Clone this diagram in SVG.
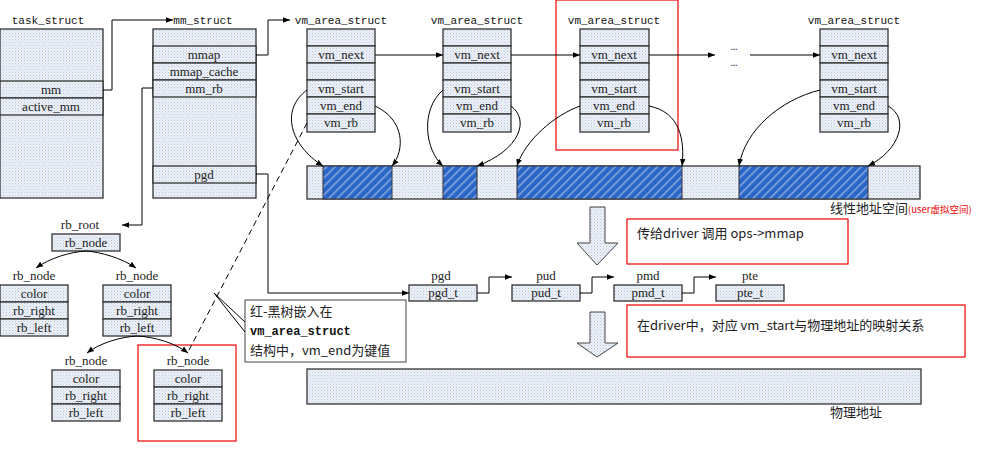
<svg xmlns="http://www.w3.org/2000/svg" width="994" height="457" viewBox="0 0 994 457">
<defs>
<pattern id="dot" width="3" height="3" patternUnits="userSpaceOnUse"><rect width="3" height="3" fill="#eef2f8"/><rect width="1" height="1" fill="#b8c6dc"/><rect x="1.5" y="1.5" width="1" height="1" fill="#c8d4e6"/></pattern>
<pattern id="hatch" width="6" height="6" patternUnits="userSpaceOnUse" patternTransform="rotate(45)"><rect width="6" height="6" fill="#2a66c8"/><rect width="1.5" height="6" fill="#8aa8dc"/></pattern>
<marker id="ar" viewBox="0 0 10 10" refX="10" refY="5" markerWidth="7" markerHeight="7" orient="auto"><path d="M0,1 L10,5 L0,9 z" fill="#000"/></marker>
</defs>
<style>
.b{fill:url(#dot);stroke:#333;stroke-width:1.3}
.t{font-family:"Liberation Serif",serif;font-size:13px;fill:#222;text-anchor:middle}
.h{font-family:"Liberation Mono",monospace;font-size:11px;fill:#111;text-anchor:middle}
.c{fill:none;stroke:#000;stroke-width:1}
.r{fill:none;stroke:#e00;stroke-width:1.2}
.z{font-family:"Noto Sans CJK SC",sans-serif;font-size:13px;fill:#222}
</style>
<rect width="994" height="457" fill="#fff"/>
<g id="task_struct">
<text class="h" x="48" y="24">task_struct</text>
<rect class="b" x="0" y="29" width="103" height="169"/>
<rect class="b" x="0" y="81" width="103" height="17"/><text class="t" x="51" y="94">mm</text>
<rect class="b" x="0" y="98" width="103" height="17"/><text class="t" x="51" y="111">active_mm</text>
</g>
<g id="mm_struct">
<text class="h" x="203" y="24">mm_struct</text>
<rect class="b" x="153" y="29" width="103" height="169"/>
<rect class="b" x="153" y="46" width="103" height="17"/><text class="t" x="204" y="59">mmap</text>
<rect class="b" x="153" y="63" width="103" height="17"/><text class="t" x="204" y="76">mmap_cache</text>
<rect class="b" x="153" y="80" width="103" height="17"/><text class="t" x="204" y="93">mm_rb</text>
<rect class="b" x="153" y="166" width="103" height="17"/><text class="t" x="204" y="179">pgd</text>
</g>
<g id="vma1">
<text class="h" x="341" y="24">vm_area_struct</text>
<rect class="b" x="307" y="29" width="68" height="17"/>
<rect class="b" x="307" y="46" width="68" height="17"/><text class="t" x="341" y="59">vm_next</text>
<rect class="b" x="307" y="63" width="68" height="17"/>
<rect class="b" x="307" y="80" width="68" height="17"/><text class="t" x="341" y="93">vm_start</text>
<rect class="b" x="307" y="97" width="68" height="17"/><text class="t" x="341" y="110">vm_end</text>
<rect class="b" x="307" y="114" width="68" height="18"/><text class="t" x="341" y="127">vm_rb</text>
</g>
<g id="vma2">
<text class="h" x="477" y="24">vm_area_struct</text>
<rect class="b" x="443" y="29" width="68" height="17"/>
<rect class="b" x="443" y="46" width="68" height="17"/><text class="t" x="477" y="59">vm_next</text>
<rect class="b" x="443" y="63" width="68" height="17"/>
<rect class="b" x="443" y="80" width="68" height="17"/><text class="t" x="477" y="93">vm_start</text>
<rect class="b" x="443" y="97" width="68" height="17"/><text class="t" x="477" y="110">vm_end</text>
<rect class="b" x="443" y="114" width="68" height="18"/><text class="t" x="477" y="127">vm_rb</text>
</g>
<g id="vma3">
<rect class="r" x="556" y="0" width="122" height="150"/>
<text class="h" x="614" y="24">vm_area_struct</text>
<rect class="b" x="580" y="29" width="69" height="17"/>
<rect class="b" x="580" y="46" width="69" height="17"/><text class="t" x="614" y="59">vm_next</text>
<rect class="b" x="580" y="63" width="69" height="17"/>
<rect class="b" x="580" y="80" width="69" height="17"/><text class="t" x="614" y="93">vm_start</text>
<rect class="b" x="580" y="97" width="69" height="17"/><text class="t" x="614" y="110">vm_end</text>
<rect class="b" x="580" y="114" width="69" height="18"/><text class="t" x="614" y="127">vm_rb</text>
</g>
<g id="dots"><text class="h" x="734" y="50">…</text><text class="h" x="734" y="66">…</text></g>
<g id="vma4">
<text class="h" x="854" y="24">vm_area_struct</text>
<rect class="b" x="820" y="29" width="68" height="17"/>
<rect class="b" x="820" y="46" width="68" height="17"/><text class="t" x="854" y="59">vm_next</text>
<rect class="b" x="820" y="63" width="68" height="17"/>
<rect class="b" x="820" y="80" width="68" height="17"/><text class="t" x="854" y="93">vm_start</text>
<rect class="b" x="820" y="97" width="68" height="17"/><text class="t" x="854" y="110">vm_end</text>
<rect class="b" x="820" y="114" width="68" height="18"/><text class="t" x="854" y="127">vm_rb</text>
</g>
<g id="linear">
<rect class="b" x="307" y="166" width="613" height="33"/>
<rect x="323" y="166" width="69" height="33" fill="url(#hatch)" stroke="#333"/>
<rect x="443" y="166" width="34" height="33" fill="url(#hatch)" stroke="#333"/>
<rect x="517" y="166" width="165" height="33" fill="url(#hatch)" stroke="#333"/>
<rect x="739" y="166" width="129" height="33" fill="url(#hatch)" stroke="#333"/>
<text class="z" x="830" y="213" font-size="11">线性地址空间<tspan fill="#e00" font-size="9.5">(user虚拟空间)</tspan></text>
</g>
<g id="phys">
<rect class="b" x="307" y="369" width="614" height="35"/>
<text class="z" x="830" y="417" font-size="11">物理地址</text>
</g>
<g id="bigarrows">
<path d="M590,207 H605 V243 H618 L597,265 L577,243 H590 Z" fill="url(#dot)" stroke="#444"/>
<path d="M590,312 H605 V343 H618 L597,357 L577,343 H590 Z" fill="url(#dot)" stroke="#444"/>
</g>
<g id="note1"><rect class="r" x="627" y="219" width="221" height="45"/><text class="z" x="637" y="238" fill="#e00" font-size="14">传给driver 调用 ops-&gt;mmap</text></g>
<g id="note2"><rect class="r" x="627" y="305" width="338" height="52"/><text class="z" x="637" y="330" fill="#e00" font-size="14">在driver中，对应 vm_start与物理地址的映射关系</text></g>
<g id="pgtables">
<text class="t" x="441" y="280">pgd</text><rect class="b" x="409" y="285" width="68" height="16"/><text class="t" x="443" y="297">pgd_t</text>
<text class="t" x="546" y="280">pud</text><rect class="b" x="512" y="285" width="68" height="16"/><text class="t" x="546" y="297">pud_t</text>
<text class="t" x="648" y="280">pmd</text><rect class="b" x="614" y="285" width="68" height="16"/><text class="t" x="648" y="297">pmd_t</text>
<text class="t" x="750" y="280">pte</text><rect class="b" x="716" y="285" width="68" height="16"/><text class="t" x="750" y="297">pte_t</text>
</g>
<g id="rbtree">
<text class="t" x="80" y="229">rb_root</text>
<rect class="b" x="52" y="234" width="68" height="17"/><text class="t" x="86" y="247">rb_node</text>
<text class="t" x="34" y="280">rb_node</text>
<rect class="b" x="0" y="285" width="68" height="17"/><text class="t" x="34" y="298">color</text>
<rect class="b" x="0" y="302" width="68" height="17"/><text class="t" x="34" y="315">rb_right</text>
<rect class="b" x="0" y="319" width="68" height="17"/><text class="t" x="34" y="332">rb_left</text>
<text class="t" x="137" y="280">rb_node</text>
<rect class="b" x="103" y="285" width="68" height="17"/><text class="t" x="137" y="298">color</text>
<rect class="b" x="103" y="302" width="68" height="17"/><text class="t" x="137" y="315">rb_right</text>
<rect class="b" x="103" y="319" width="68" height="17"/><text class="t" x="137" y="332">rb_left</text>
<text class="t" x="86" y="365">rb_node</text>
<rect class="b" x="52" y="370" width="68" height="17"/><text class="t" x="86" y="383">color</text>
<rect class="b" x="52" y="387" width="68" height="17"/><text class="t" x="86" y="400">rb_right</text>
<rect class="b" x="52" y="404" width="68" height="17"/><text class="t" x="86" y="417">rb_left</text>
<rect class="r" x="138" y="345" width="98" height="96"/>
<text class="t" x="188" y="365">rb_node</text>
<rect class="b" x="154" y="370" width="68" height="17"/><text class="t" x="188" y="383">color</text>
<rect class="b" x="154" y="387" width="68" height="17"/><text class="t" x="188" y="400">rb_right</text>
<rect class="b" x="154" y="404" width="68" height="17"/><text class="t" x="188" y="417">rb_left</text>
</g>
<g id="callout">
<rect x="245" y="300" width="161" height="62" fill="#fff" stroke="#444"/>
<text class="z" x="250" y="316">红-黑树嵌入在</text>
<text x="250" y="335" font-family="Liberation Mono,monospace" font-size="12" font-weight="bold" fill="#111">vm_area_struct</text>
<text class="z" x="250" y="355">结构中，vm_end为键值</text>
</g>
<g id="connectors">
<path class="c" d="M103,90 H112 V20 H173" marker-end="url(#ar)"/>
<path class="c" d="M256,55 H268 V20 H290" marker-end="url(#ar)"/>
<path class="c" d="M153,88 H142 V225 H122" marker-end="url(#ar)"/>
<path class="c" d="M256,174 H268 V293 H409" marker-end="url(#ar)"/>
<path class="c" d="M477,293 H489 V277 H512" marker-end="url(#ar)"/>
<path class="c" d="M580,293 H592 V277 H614" marker-end="url(#ar)"/>
<path class="c" d="M682,293 H694 V277 H716" marker-end="url(#ar)"/>
<path class="c" d="M375,55 H443" marker-end="url(#ar)"/>
<path class="c" d="M511,55 H580" marker-end="url(#ar)"/>
<path class="c" d="M649,55 H715" marker-end="url(#ar)"/>
<path class="c" d="M750,55 H820" marker-end="url(#ar)"/>
<path class="c" d="M307,90 C280,110 290,145 323,166" marker-end="url(#ar)"/>
<path class="c" d="M375,106 C405,120 405,150 392,166" marker-end="url(#ar)"/>
<path class="c" d="M443,90 C420,110 425,150 443,166" marker-end="url(#ar)"/>
<path class="c" d="M511,106 C530,120 520,150 477,166" marker-end="url(#ar)"/>
<path class="c" d="M580,106 C555,115 525,140 517,166" marker-end="url(#ar)"/>
<path class="c" d="M649,106 C680,112 685,140 682,166" marker-end="url(#ar)"/>
<path class="c" d="M820,90 C780,100 745,130 739,166" marker-end="url(#ar)"/>
<path class="c" d="M888,106 C910,118 900,150 868,166" marker-end="url(#ar)"/>
<path class="c" d="M86,251 C70,252 50,258 36,268" marker-end="url(#ar)"/>
<path class="c" d="M86,251 C100,252 122,258 136,268" marker-end="url(#ar)"/>
<path class="c" d="M137,336 C120,337 100,343 87,353" marker-end="url(#ar)"/>
<path class="c" d="M137,336 C155,337 175,343 188,353" marker-end="url(#ar)"/>
<path class="c" d="M307,123 L188,352" stroke-dasharray="6,4"/>
<path class="c" d="M214,293 L245,322 M214,293 L245,332" stroke="#444"/>
</g>
</svg>
